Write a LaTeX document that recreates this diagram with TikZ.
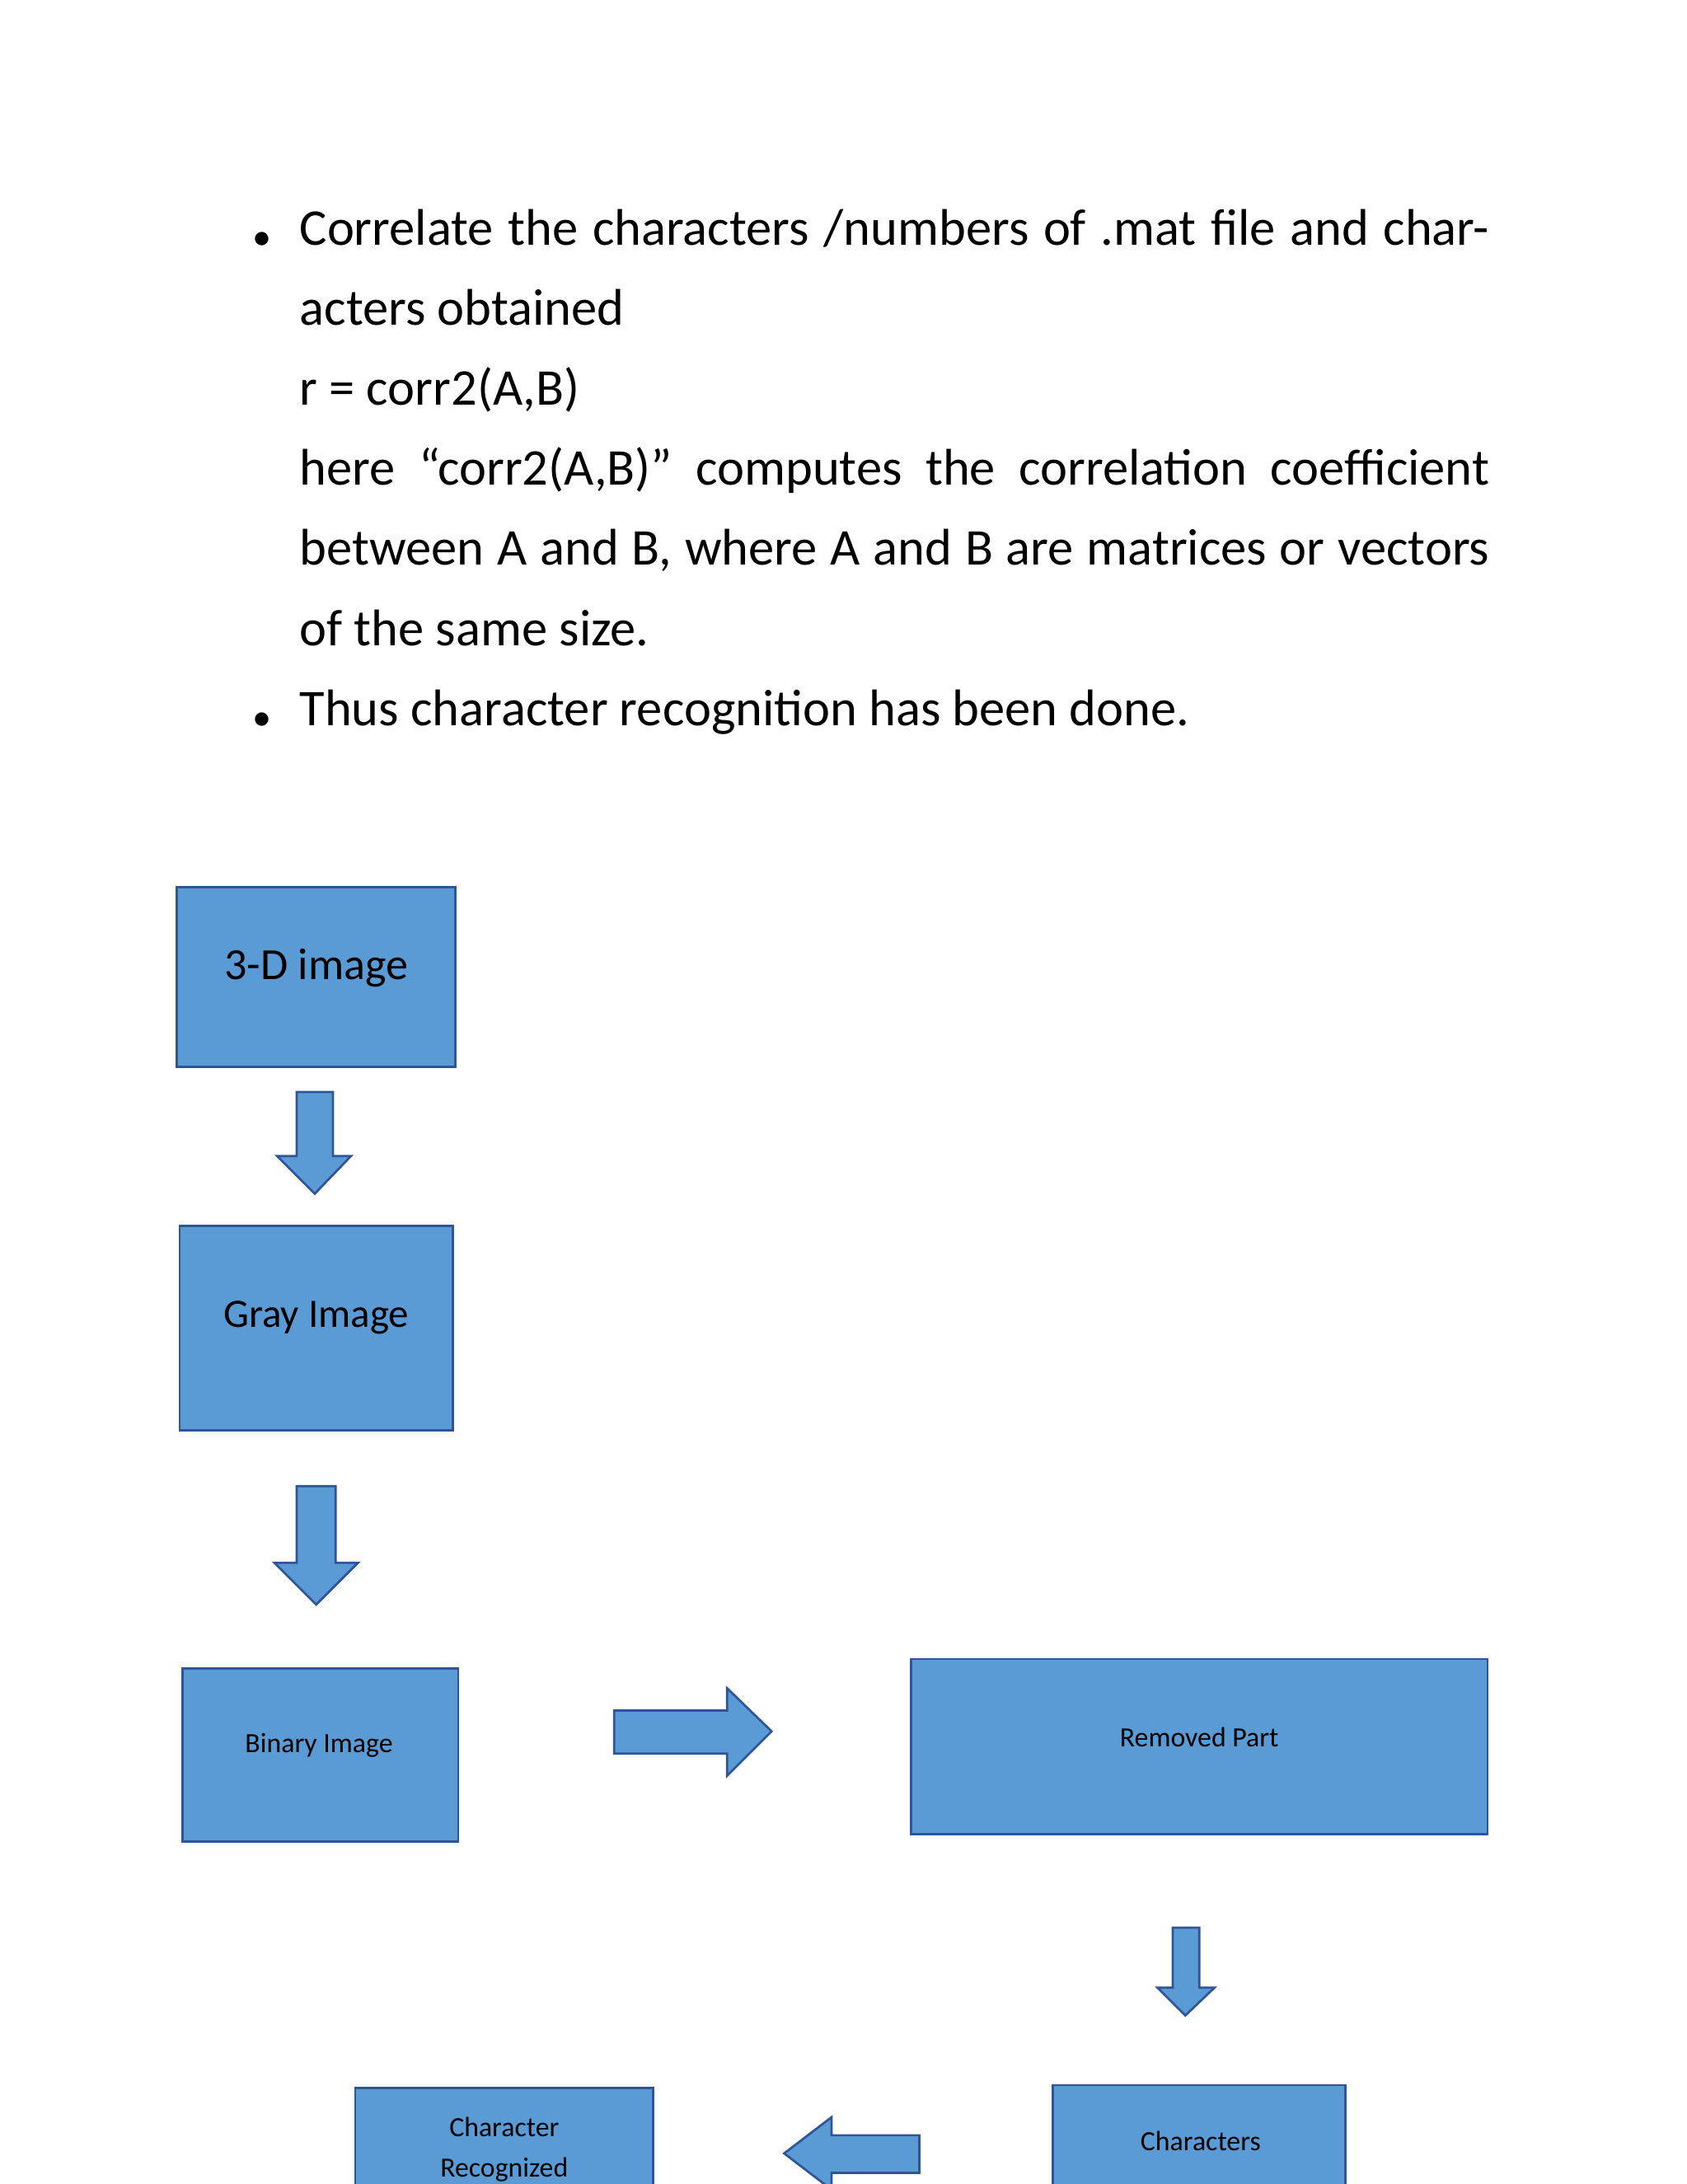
\documentclass[tikz,border=0pt]{standalone}
\usepackage{fontspec}
\setmainfont{Carlito}
\definecolor{boxfill}{HTML}{5B9BD5}
\definecolor{boxline}{HTML}{2F5597}
\begin{document}
\begin{tikzpicture}[x=1pt,y=-1pt,
  blk/.style={fill=boxfill,draw=boxline,line width=1.6pt},
  lbl/.style={font=\fontsize{#1}{#1}\selectfont,text=black,align=center}]
\useasboundingbox (0,0) rectangle (1211,1568);
\clip (0,0) rectangle (1211,1568);
% text
\node[font=\fontsize{37}{57.5}\selectfont] (b1) at (188,172) {$\bullet$};
\node[font=\fontsize{37}{57.5}\selectfont] (b2) at (188,517) {$\bullet$};
\node[anchor=north west,inner sep=0pt,text width=854pt,align=justify,
  font=\fontsize{37}{57.5}\selectfont] (para) at (215,150)
  {Correlate the characters /numbers of .mat file and characters obtained\\
   r = corr2(A,B)\\
   here “corr2(A,B)” computes the correlation coefficient between A and B, where A and B are matrices or vectors of the same size.\par
   Thus character recognition has been done.};
% boxes
\draw[blk] (127,637) rectangle (327,766);
\node[lbl=32] (n1) at (227,695) {3-D image};
\draw[blk] (129,880) rectangle (325,1027);
\node[lbl=29] (n2) at (227,946) {Gray Image};
\draw[blk] (131,1198) rectangle (329,1322);
\node[lbl=20] (n3) at (229,1253) {Binary Image};
\draw[blk] (654,1191) rectangle (1068,1317);
\node[lbl=20] (n4) at (861,1247) {Removed Part};
\draw[blk] (756,1497) rectangle (966,1600);
\node[lbl=20] (n5) at (862,1537) {Characters};
\draw[blk] (255,1499) rectangle (469,1600);
\node[lbl=20,font=\fontsize{20}{29}\selectfont] (n6) at (362,1543) {Character\\Recognized};
% block arrows
\draw[blk] (213,784) -- (239,784) -- (239,830) -- (252,830) -- (226,857) -- (199,830) -- (213,830) -- cycle;
\draw[blk] (213,1067) -- (241,1067) -- (241,1122) -- (257,1122) -- (227,1152) -- (197,1122) -- (213,1122) -- cycle;
\draw[blk] (441,1228) -- (522,1228) -- (522,1212) -- (554,1243) -- (522,1275) -- (522,1259) -- (441,1259) -- cycle;
\draw[blk] (842,1384) -- (861,1384) -- (861,1427) -- (872,1427) -- (851,1447) -- (831,1427) -- (842,1427) -- cycle;
\draw[blk] (660,1533) -- (597,1533) -- (597,1520) -- (563,1546) -- (597,1572) -- (597,1560) -- (660,1560) -- cycle;
\end{tikzpicture}
\end{document}
